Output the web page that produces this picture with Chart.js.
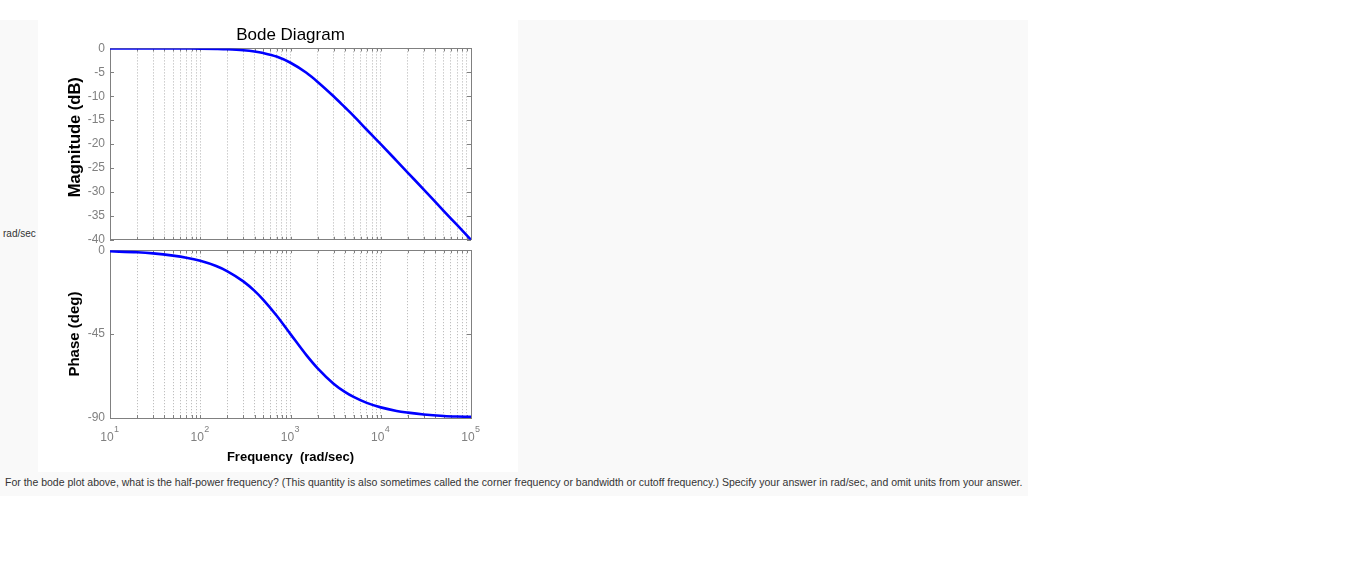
<!DOCTYPE html>
<html>
<head>
<meta charset="utf-8">
<script src="https://cdn.jsdelivr.net/npm/chart.js@4.4.1/dist/chart.umd.min.js"></script>
<style>
  body { margin: 0; background: #fff; font-family: "Liberation Sans", Arial, sans-serif; }
  #page { position: absolute; left: 0; top: 20px; width: 1028px; height: 476px; background: #f9f9f9; }
  #box { position: absolute; left: 38px; top: 20px; width: 480px; height: 452px; background: #fff; }
  .wrap { position: absolute; left: 38px; width: 480px; }
  #wrapMag { top: 20px; height: 232px; }
  #wrapPhase { top: 238px; height: 234px; }
  #unit { position: absolute; left: 3px; top: 228px; font-size: 10px; color: #333; }
  #question { position: absolute; left: 5px; top: 476px; font-size: 10.5px; color: #333; white-space: nowrap; }
</style>
</head>
<body>
<div id="page"></div>
<div id="box"></div>
<div class="wrap" id="wrapMag"><canvas id="magChart"></canvas></div>
<div class="wrap" id="wrapPhase"><canvas id="phaseChart"></canvas></div>
<div id="unit">rad/sec</div>
<div id="question">For the bode plot above, what is the half-power frequency? (This quantity is also sometimes called the corner frequency or bandwidth or cutoff frequency.) Specify your answer in rad/sec, and omit units from your answer.</div>

<script>
// values
const freq = [10, 20, 30, 50, 70, 100, 150, 200, 300, 400, 500, 700, 1000, 1500, 2000, 3000, 4000, 5000, 7000, 10000, 15000, 20000, 30000, 50000, 70000, 100000];
const magnitude = [0, 0, 0, 0, -0.02, -0.04, -0.1, -0.17, -0.37, -0.64, -0.97, -1.7, -3.0, -5.1, -7.0, -10.0, -12.3, -14.1, -17.0, -20.0, -23.5, -26.0, -29.5, -34.0, -36.9, -40.0];
const phase = [-0.6, -1.1, -1.7, -2.9, -4.0, -5.7, -8.5, -11.3, -16.7, -21.8, -26.6, -35.0, -45.0, -56.3, -63.4, -71.6, -76.0, -78.7, -81.9, -84.3, -86.2, -87.1, -88.1, -88.9, -89.2, -89.4];
const decades = [10, 100, 1000, 10000, 100000];
const decadeExponents = ['1', '2', '3', '4', '5'];
const gridSteps = [1, 2, 3, 4, 5, 6, 7, 8, 9];

const FONT = '"Liberation Sans", Arial, sans-serif';
const GRAY = '#808080';

function toPoints(ys) {
    var pts = [];
    for (var i = 0; i < freq.length; i++) {
        pts.push({x: freq[i], y: ys[i]});
    }
    return pts;
}

// every 1..9 x decade gets a dotted grid line
function freqTicks(scale) {
    var ticks = [];
    for (var d = 0; d < decades.length - 1; d++) {
        gridSteps.forEach(function(s) { ticks.push({value: decades[d] * s}); });
    }
    ticks.push({value: decades[decades.length - 1]});
    scale.ticks = ticks;
}

// box around the plot plus small inward tick marks
const framePlugin = {
    id: 'frame',
    beforeDatasetsDraw(chart) {
        const a = chart.chartArea;
        const c = chart.ctx;
        c.save();
        c.strokeStyle = GRAY;
        c.lineWidth = 1;
        c.beginPath();
        chart.scales.x.ticks.forEach(function(t) {
            var px = Math.round(chart.scales.x.getPixelForValue(t.value)) + 0.5;
            c.moveTo(px, a.bottom); c.lineTo(px, a.bottom - 3);
            c.moveTo(px, a.top); c.lineTo(px, a.top + 3);
        });
        chart.scales.y.ticks.forEach(function(t) {
            var py = Math.round(chart.scales.y.getPixelForValue(t.value)) + 0.5;
            c.moveTo(a.left, py); c.lineTo(a.left + 4, py);
            c.moveTo(a.right, py); c.lineTo(a.right - 4, py);
        });
        c.stroke();
        c.strokeRect(Math.round(a.left) + 0.5, Math.round(a.top) + 0.5, Math.round(a.right - a.left), Math.round(a.bottom - a.top));
        c.restore();
    }
};

// raised exponents for the 10^n labels
const exponentPlugin = {
    id: 'exponents',
    afterDraw(chart) {
        const x = chart.scales.x;
        const c = chart.ctx;
        c.save();
        c.fillStyle = GRAY;
        c.font = '9px ' + FONT;
        c.textBaseline = 'top';
        c.textAlign = 'left';
        decades.forEach(function(v, i) {
            c.fillText(decadeExponents[i], x.getPixelForValue(v) + 4, chart.chartArea.bottom + 7);
        });
        c.restore();
    }
};

function makeChart(id, values, yOpts) {
    const isPhase = id === 'phaseChart';
    return new Chart(document.getElementById(id), {
        type: 'line',
        data: {
            datasets: [{
                data: toPoints(values),
                borderColor: '#0000ff',
                borderWidth: 2.6,
                pointRadius: 0,
                cubicInterpolationMode: 'monotone',
                fill: false
            }]
        },
        options: {
            responsive: true,
            maintainAspectRatio: false,
            animation: false,
            layout: { padding: {top: 0, right: 47, bottom: 0, left: 0} },
            plugins: {
                legend: { display: false },
                tooltip: { enabled: false },
                title: {
                    display: !isPhase,
                    fullSize: false,
                    text: 'Bode Diagram',
                    color: '#000',
                    font: { family: FONT, size: 17, weight: 'normal' },
                    padding: { top: 5, bottom: 3 }
                }
            },
            scales: {
                x: {
                    type: 'logarithmic',
                    min: 10,
                    max: 100000,
                    afterBuildTicks: freqTicks,
                    afterFit: function(scale) { scale.height = isPhase ? 54 : 0; },
                    grid: { color: '#b0b0b0', drawTicks: false, lineWidth: 1 },
                    border: { display: false, dash: [1, 2] },
                    ticks: {
                        display: isPhase,
                        autoSkip: false,
                        maxRotation: 0,
                        padding: 12,
                        labelOffset: -3,
                        color: GRAY,
                        font: { family: FONT, size: 12 },
                        callback: function(v) { return decades.indexOf(v) >= 0 ? '10' : ''; }
                    },
                    title: {
                        display: isPhase,
                        text: 'Frequency  (rad/sec)',
                        color: '#000',
                        font: { family: FONT, size: 13, weight: 'bold' },
                        padding: { top: 0, bottom: 7 }
                    }
                },
                y: {
                    min: yOpts.min,
                    max: 0,
                    afterFit: function(scale) { scale.width = 72; },
                    grid: { drawOnChartArea: false, drawTicks: false },
                    border: { display: false },
                    ticks: {
                        stepSize: yOpts.step,
                        padding: 5,
                        color: GRAY,
                        font: { family: FONT, size: 12 }
                    },
                    title: {
                        display: true,
                        text: yOpts.label,
                        color: '#000',
                        font: { family: FONT, size: yOpts.labelSize, weight: 'bold' },
                        padding: { top: 28, bottom: 0 }
                    }
                }
            }
        },
        plugins: isPhase ? [framePlugin, exponentPlugin] : [framePlugin]
    });
}

// leading spaces lift the magnitude label a little above the axis centre, as in the original
makeChart('magChart', magnitude, {min: -40, step: 5, label: '   Magnitude (dB)', labelSize: 16.5});
makeChart('phaseChart', phase, {min: -90, step: 45, label: 'Phase (deg)', labelSize: 15});
</script>
</body>
</html>
